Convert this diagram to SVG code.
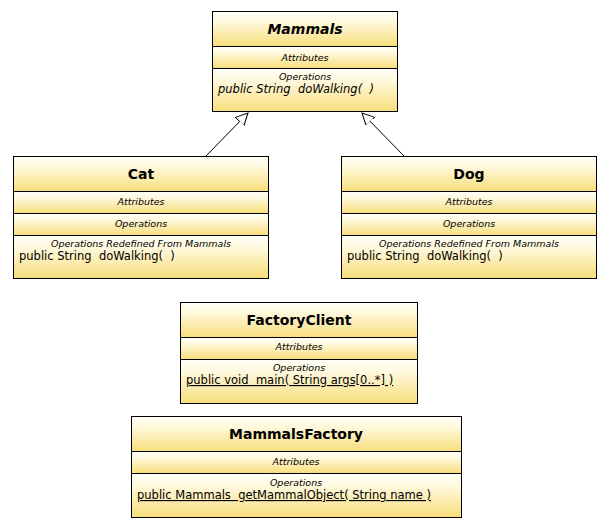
<svg xmlns="http://www.w3.org/2000/svg" width="610" height="524" viewBox="0 0 610 524">
<defs>
<linearGradient id="g" x1="0" y1="0" x2="0" y2="1"><stop offset="0" stop-color="#fffff8"/><stop offset="0.3" stop-color="#fff8dc"/><stop offset="1" stop-color="#f7de7a"/></linearGradient>
<marker id="tri" markerWidth="14" markerHeight="14" refX="12" refY="6" orient="auto" markerUnits="userSpaceOnUse"><path d="M0,0 L12,6 L0,12 Z" fill="#fff" stroke="#000" stroke-width="1"/></marker>
</defs>
<style>
rect{fill:url(#g);stroke:#000;stroke-width:1}
text{font-family:"DejaVu Sans",sans-serif;fill:#000;white-space:pre}
.t{font-size:14px;font-weight:bold;text-anchor:middle}
.ti{font-style:italic}
.l{font-size:9.5px;font-style:italic;text-anchor:middle}
.o{font-size:11.5px}
.u{text-decoration:underline}
line{stroke:#000;stroke-width:1}
</style>
<rect x="0" y="0" width="610" height="524" style="fill:#fff;stroke:none"/>
<g id="connectors">
<line x1="206" y1="156" x2="248" y2="113" marker-end="url(#tri)"/>
<line x1="404" y1="156" x2="362" y2="113" marker-end="url(#tri)"/>
</g>
<g id="Mammals">
<rect x="212.5" y="11.5" width="185" height="35"/><rect x="212.5" y="46.5" width="185" height="22"/><rect x="212.5" y="68.5" width="185" height="43"/>
<text class="t ti" x="305" y="34">Mammals</text>
<text class="l" x="305" y="61">Attributes</text>
<text class="l" x="305" y="80">Operations</text>
<text class="o ti" x="218" y="93" xml:space="preserve">public String  doWalking(  )</text>
</g>
<g id="Cat">
<rect x="13.5" y="156.5" width="255" height="35"/><rect x="13.5" y="191.5" width="255" height="22"/><rect x="13.5" y="213.5" width="255" height="22"/><rect x="13.5" y="235.5" width="255" height="43"/>
<text class="t" x="141" y="179">Cat</text>
<text class="l" x="141" y="205">Attributes</text>
<text class="l" x="141" y="227">Operations</text>
<text class="l" x="141" y="247">Operations Redefined From Mammals</text>
<text class="o" x="19" y="260" xml:space="preserve">public String  doWalking(  )</text>
</g>
<g id="Dog">
<rect x="341.5" y="156.5" width="255" height="35"/><rect x="341.5" y="191.5" width="255" height="22"/><rect x="341.5" y="213.5" width="255" height="22"/><rect x="341.5" y="235.5" width="255" height="43"/>
<text class="t" x="469" y="179">Dog</text>
<text class="l" x="469" y="205">Attributes</text>
<text class="l" x="469" y="227">Operations</text>
<text class="l" x="469" y="247">Operations Redefined From Mammals</text>
<text class="o" x="347" y="260" xml:space="preserve">public String  doWalking(  )</text>
</g>
<g id="FactoryClient">
<rect x="180.5" y="302.5" width="237" height="35"/><rect x="180.5" y="337.5" width="237" height="22"/><rect x="180.5" y="359.5" width="237" height="44"/>
<text class="t" x="299" y="325">FactoryClient</text>
<text class="l" x="299" y="350">Attributes</text>
<text class="l" x="299" y="371">Operations</text>
<text class="o u" x="186" y="384" xml:space="preserve">public void  main( String args[0..*] )</text>
</g>
<g id="MammalsFactory">
<rect x="131.5" y="416.5" width="330" height="35"/><rect x="131.5" y="451.5" width="330" height="22"/><rect x="131.5" y="473.5" width="330" height="44"/>
<text class="t" x="296" y="439">MammalsFactory</text>
<text class="l" x="296" y="465">Attributes</text>
<text class="l" x="296" y="486">Operations</text>
<text class="o u" x="137" y="499" xml:space="preserve">public Mammals  getMammalObject( String name )</text>
</g>
</svg>
